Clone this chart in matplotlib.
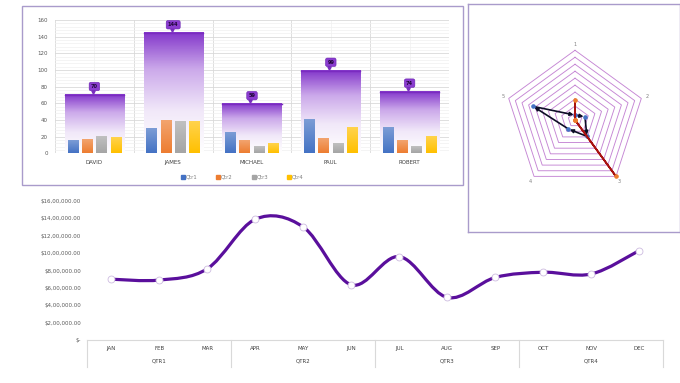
import numpy as np
import matplotlib.pyplot as plt
from matplotlib.colors import LinearSegmentedColormap, to_rgb
from matplotlib.path import Path
from matplotlib.patches import PathPatch, Rectangle
from matplotlib.lines import Line2D

# --- bar chart data ---
names = ['DAVID', 'JAMES', 'MICHAEL', 'PAUL', 'ROBERT']
qtr1 = [15, 29, 25, 40, 31]
qtr2 = [16, 39, 15, 17, 15]
qtr3 = [20, 38, 8, 11, 8]
qtr4 = [19, 38, 11, 31, 20]
totals = [70, 144, 59, 99, 74]
qtr_names = ['Qtr1', 'Qtr2', 'Qtr3', 'Qtr4']
qtr_colors = ['#4472C4', '#ED7D31', '#A5A5A5', '#FFC000']

# --- line chart data ---
months = ['JAN', 'FEB', 'MAR', 'APR', 'MAY', 'JUN',
          'JUL', 'AUG', 'SEP', 'OCT', 'NOV', 'DEC']
quarters = ['QTR1', 'QTR2', 'QTR3', 'QTR4']
sales = [700000, 690000, 820000, 1390000, 1300000, 635000,
         960000, 490000, 720000, 780000, 760000, 1030000]

# --- radar data ---
radar_labels = ['1', '2', '3', '4', '5']
black_series = [0.07, 0.15, 0.29, 0.16, 0.63]
red_series = [0.29, 0.0, 1.0, 0.0, 0.0]

W, H = 680, 383


def box(l, t, r, b):
    return [l / W, 1 - b / H, (r - l) / W, (b - t) / H]


def lighten(c, f):
    c = np.array(to_rgb(c))
    return tuple(c + (1 - c) * f)


def grad_bar(ax, x, w, h, colors, z):
    cmap = LinearSegmentedColormap.from_list('g', colors)
    ax.imshow(np.linspace(0, 1, 100).reshape(-1, 1), extent=[x - w / 2, x + w / 2, 0, h],
              origin='lower', cmap=cmap, aspect='auto', zorder=z, interpolation='bilinear')


def inr(v, pos=None):
    if v == 0:
        return '$-'
    s = str(int(round(v)))
    last3, rest = s[-3:], s[:-3]
    groups = []
    while len(rest) > 2:
        groups.insert(0, rest[-2:])
        rest = rest[:-2]
    if rest:
        groups.insert(0, rest)
    return '$' + ','.join(groups + [last3]) + '.00'


fig = plt.figure(figsize=(6.8, 3.83), dpi=100)
fig.patch.set_facecolor('white')

# frame round the bar chart
fig.patches.append(Rectangle((22 / W, 1 - 185 / H), 441 / W, 179 / H, transform=fig.transFigure,
                             fill=False, edgecolor='#A99BCB', lw=1.0))

# ---------------- bar chart ----------------
ax1 = fig.add_axes(box(55, 20, 449, 153.5))
x = np.arange(len(names))
total_grad = [(0.0, '#FFFFFF'), (0.35, '#F1E8F9'), (0.7, '#CBA8EA'), (1.0, '#8438CB')]
for i in x:
    grad_bar(ax1, i, 0.75, totals[i], total_grad, 2)
    ax1.plot([i - 0.375, i + 0.375], [totals[i], totals[i]], color='#7A2BC0', lw=1.0, zorder=2.5)
    ax1.annotate(str(totals[i]), (i, totals[i]), xytext=(0, 6.2), textcoords='offset points',
                 ha='center', va='center', fontsize=3.6, fontweight='bold', color='#1E0638',
                 bbox=dict(boxstyle='round,pad=0.35', fc='#8A3CCF', ec='#6A22B0', lw=0.4), zorder=6)
    ax1.plot(i - 0.02, totals[i] + 3.6, marker='v', ms=2.4, color='#7A30C0', zorder=5.5)

series = [qtr1, qtr2, qtr3, qtr4]
for k, vals in enumerate(series):
    for i in x:
        pos = i + (k - 1.5) * 0.182
        top = lighten(qtr_colors[k], 0.3)
        grad_bar(ax1, pos, 0.136, vals[i], [qtr_colors[k], top], 3)

ax1.set_xlim(-0.5, 4.5)
ax1.set_ylim(0, 160)
ax1.set_yticks(np.arange(0, 161, 20))
ax1.set_yticks(np.arange(0, 161, 4), minor=True)
ax1.set_xticks(x)
ax1.set_xticklabels(names)
ax1.set_xticks(np.arange(-0.5, 5, 1), minor=True)
ax1.tick_params(axis='both', which='both', length=0, labelsize=4, colors='#595959')
ax1.tick_params(axis='y', pad=5)
ax1.tick_params(axis='x', pad=5, labelcolor='#404040')
ax1.grid(which='major', axis='y', color='#D9D9D9', lw=0.6, zorder=0)
ax1.grid(which='minor', axis='y', color='#F0F0F0', lw=0.5, zorder=0)
ax1.grid(which='major', axis='x', color='#F0F0F0', lw=0.5, zorder=0)
ax1.grid(which='minor', axis='x', color='#D9D9D9', lw=0.6, zorder=0)
ax1.set_axisbelow(True)
for sp in ax1.spines.values():
    sp.set_visible(False)
ax1.axhline(0, color='#C8C8C8', lw=0.7, zorder=1)

handles = [Line2D([], [], marker='s', ls='', ms=2.2, color=c) for c in qtr_colors]
ax1.legend(handles, qtr_names, ncol=4, loc='center', bbox_to_anchor=(0.475, -0.176),
           frameon=False, fontsize=3.8, handletextpad=0.2, columnspacing=3.5,
           labelcolor='#7F7F7F', handlelength=0.8)

# ---------------- line chart ----------------
ax2 = fig.add_axes(box(87.3, 201, 663.3, 340))
ax2.patch.set_visible(False)
mx = np.arange(len(months))
pts = np.column_stack([mx, sales]).astype(float)
n = len(pts)
verts = [pts[0]]
codes = [Path.MOVETO]
for i in range(n - 1):
    p0 = pts[max(i - 1, 0)]
    p1 = pts[i]
    p2 = pts[i + 1]
    p3 = pts[min(i + 2, n - 1)]
    verts += [p1 + (p2 - p0) / 6, p2 - (p3 - p1) / 6, p2]
    codes += [Path.CURVE4] * 3
ax2.add_patch(PathPatch(Path(verts, codes), fill=False, edgecolor='#5A0F9C', lw=2.3, zorder=2))
ax2.plot(mx, sales, 'o', ms=5, mfc='white', mec='#CDBBE0', mew=0.6, zorder=3)

ax2.set_xlim(-0.5, 11.5)
ax2.set_ylim(0, 1600000)
ax2.set_yticks(np.arange(0, 1600001, 200000))
ax2.yaxis.set_major_formatter(plt.FuncFormatter(inr))
ax2.set_xticks(mx)
ax2.set_xticklabels(months)
ax2.tick_params(axis='both', length=0, labelsize=4, colors='#595959')
ax2.tick_params(axis='y', pad=4.5)
ax2.tick_params(axis='x', pad=4, labelcolor='#404040')
for sp in ['top', 'left', 'right']:
    ax2.spines[sp].set_visible(False)
ax2.spines['bottom'].set_color('#D9D9D9')
ax2.spines['bottom'].set_linewidth(0.8)
trans = ax2.get_xaxis_transform()
for b in np.arange(-0.5, 12, 3):
    ax2.plot([b, b], [0, -0.194], transform=trans, clip_on=False, color='#D9D9D9', lw=0.8)
for q, lab in enumerate(quarters):
    ax2.text(q * 3 + 1, -0.151, lab, transform=trans, ha='center', va='center',
             fontsize=4, color='#404040')

# ---------------- radar ----------------
ax3 = fig.add_axes(box(468, 4, 680, 232))
ax3.patch.set_visible(False)
ax3.set_xlim(-1.535, 1.506)
ax3.set_ylim(-1.607, 1.664)
ax3.set_xticks([])
ax3.set_yticks([])
for sp in ax3.spines.values():
    sp.set_color('#A99BCB')
    sp.set_linewidth(1.0)
ang = np.deg2rad(90 - 72 * np.arange(5))
for k in range(1, 11):
    r = k / 10
    ax3.plot(np.append(r * np.cos(ang), r * np.cos(ang[0])),
             np.append(r * np.sin(ang), r * np.sin(ang[0])), color='#C586D4', lw=0.65)
for lab, a in zip(radar_labels, ang):
    ax3.text(1.09 * np.cos(a), 1.09 * np.sin(a), lab, ha='center', va='center',
             fontsize=3.6, color='#7F7F7F')

bx = np.array(black_series) * np.cos(ang)
by = np.array(black_series) * np.sin(ang)
for i in range(5):
    j = (i + 1) % 5
    ax3.annotate('', xy=(bx[j], by[j]), xytext=(bx[i], by[i]),
                 arrowprops=dict(arrowstyle='-|>', color='#0D0D26', lw=1.2,
                                 mutation_scale=5, shrinkA=0, shrinkB=1))
ax3.plot(bx, by, 'o', ms=2.3, color='#4472C4', zorder=4)

rx = np.array(red_series) * np.cos(ang)
ry = np.array(red_series) * np.sin(ang)
ax3.plot(np.append(rx, rx[0]), np.append(ry, ry[0]), color='#A81212', lw=1.3, zorder=5)
ax3.plot(rx, ry, 'o', ms=2.3, color='#ED7D31', zorder=6)

fig.savefig('out.png', dpi=100)
